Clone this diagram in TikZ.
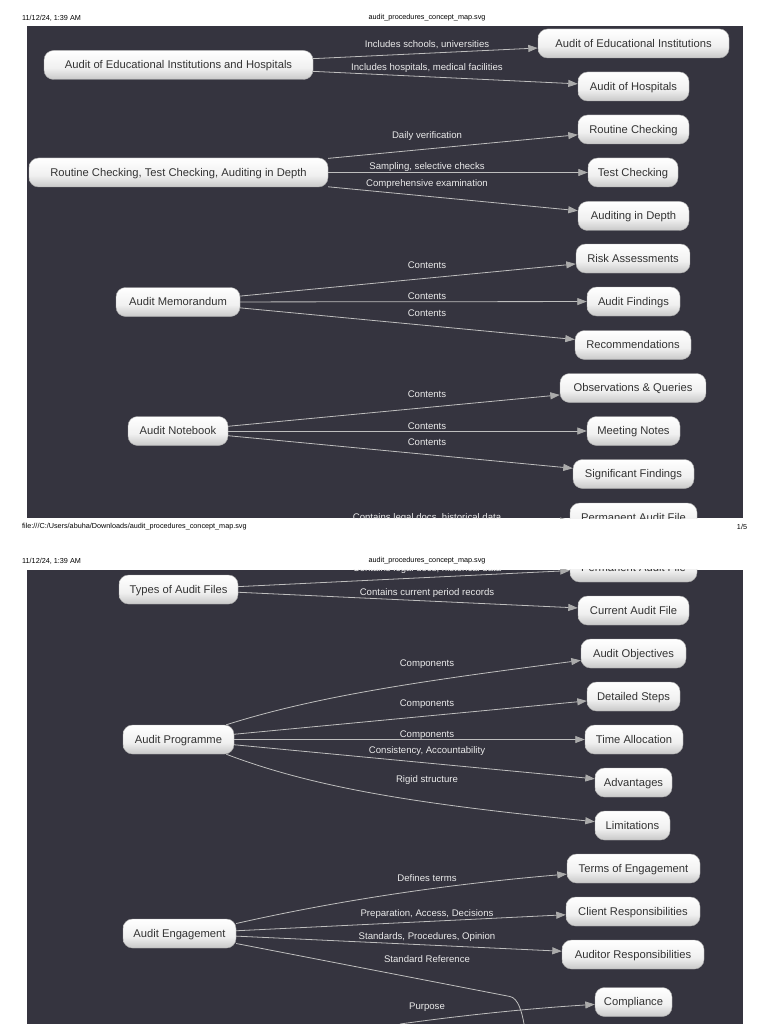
\documentclass[tikz,border=0pt]{standalone}
\usepackage{fontspec}
\setmainfont{Liberation Sans}
\usetikzlibrary{arrows.meta}
\definecolor{panel}{HTML}{35343F}
\definecolor{edgecol}{HTML}{BEBEBE}
\definecolor{tipcol}{HTML}{ABABAB}
\definecolor{boxtext}{HTML}{333333}
\definecolor{boxlow}{HTML}{C8C8C8}
\definecolor{boxmid}{HTML}{F0F0F0}
\pgfdeclareverticalshading{cardshade}{100bp}{color(0bp)=(boxlow); color(25bp)=(boxlow); color(45bp)=(boxmid); color(75bp)=(white); color(100bp)=(white)}
\tikzset{
 x=1pt,y=-1pt,
 cbox/.style={rounded corners=9.5pt,draw=boxlow!85!black,line width=.4pt,shading=cardshade,
   text=boxtext,font=\fontsize{11.2}{13}\selectfont,inner sep=0pt,minimum height=29pt,text height=7.4pt,text depth=0pt},
 lbl/.style={text=white!92!black,font=\fontsize{9.6}{11}\selectfont,inner sep=0pt,text height=7pt,text depth=0pt},
 hdr/.style={text=black,font=\fontsize{7.25}{8}\selectfont,inner sep=0pt},
 conn/.style={draw=edgecol,line width=.8pt,-{Triangle[length=9.5pt,width=7pt,fill=tipcol,color=tipcol]}},
 plain/.style={draw=edgecol,line width=.8pt},
}
\begin{document}
\begin{tikzpicture}
\useasboundingbox (0,0) rectangle (768,1024);
\fill[white] (0,0) rectangle (768,1024);
% page furniture
\node[hdr,anchor=west] (h1) at (22,18) {11/12/24, 1:39 AM};
\node[hdr] (h2) at (427,18) {audit\_procedures\_concept\_map.svg};
\node[hdr,anchor=west] (f1) at (22,526.5) {file:///C:/Users/abuha/Downloads/audit\_procedures\_concept\_map.svg};
\node[hdr] (f2) at (742,526.5) {1/5};
\node[hdr,anchor=west] (h3) at (22,561) {11/12/24, 1:39 AM};
\node[hdr] (h4) at (427,561) {audit\_procedures\_concept\_map.svg};
% page 1
\begin{scope}
\clip (26.5,26.5) rectangle (743,518);
\fill[panel] (26.5,26.5) rectangle (743,518);
\node[cbox,minimum width=269pt] (eh) at (178.5,65) {Audit of Educational Institutions and Hospitals};
\node[cbox,minimum width=191pt] (edu) at (633.5,43.5) {Audit of Educational Institutions};
\node[cbox,minimum width=111pt] (hos) at (633.5,86.5) {Audit of Hospitals};
\node[cbox,minimum width=299pt] (rt) at (178.5,172.5) {Routine Checking, Test Checking, Auditing in Depth};
\node[cbox,minimum width=111pt] (rc) at (633.5,129.5) {Routine Checking};
\node[cbox,minimum width=90pt] (tc) at (633,172.5) {Test Checking};
\node[cbox,minimum width=111pt] (ad) at (633.5,216) {Auditing in Depth};
\node[cbox,minimum width=124pt] (mem) at (178,302) {Audit Memorandum};
\node[cbox,minimum width=114pt] (risk) at (633,258.5) {Risk Assessments};
\node[cbox,minimum width=93pt] (find) at (633.5,301.5) {Audit Findings};
\node[cbox,minimum width=116pt] (rec) at (633,345) {Recommendations};
\node[cbox,minimum width=100pt] (nb) at (178,431) {Audit Notebook};
\node[cbox,minimum width=146pt] (obs) at (633,388) {Observations \& Queries};
\node[cbox,minimum width=93pt] (meet) at (633.5,431) {Meeting Notes};
\node[cbox,minimum width=121pt] (sig) at (633.5,474) {Significant Findings};
\node[cbox,minimum width=127pt] (perma) at (633.5,517.5) {Permanent Audit File};
\coordinate (typesa) at (178.5,539.5);
\draw[conn] (eh) -- (edu);
\draw[conn] (eh) -- (hos);
\draw[conn] (rt) -- (rc);
\draw[conn] (rt) -- (tc);
\draw[conn] (rt) -- (ad);
\draw[conn] (mem) -- (risk);
\draw[conn] (mem) -- (find);
\draw[conn] (mem) -- (rec);
\draw[conn] (nb) -- (obs);
\draw[conn] (nb) -- (meet);
\draw[conn] (nb) -- (sig);
\draw[conn] (typesa) -- (perma);
\node[lbl] (l1) at (427,44) {Includes schools, universities};
\node[lbl] (l2) at (427,67.5) {Includes hospitals, medical facilities};
\node[lbl] (l3) at (427,135.5) {Daily verification};
\node[lbl] (l4) at (427,166.5) {Sampling, selective checks};
\node[lbl] (l5) at (427,183.5) {Comprehensive examination};
\node[lbl] (l6) at (427,265) {Contents};
\node[lbl] (l7) at (427,296) {Contents};
\node[lbl] (l8) at (427,313) {Contents};
\node[lbl] (l9) at (427,394) {Contents};
\node[lbl] (l10) at (427,425.5) {Contents};
\node[lbl] (l11) at (427,442) {Contents};
\node[lbl] (l12) at (427,517) {Contains legal docs, historical data};
\end{scope}
% page 2
\begin{scope}
\clip (26.5,569.5) rectangle (743,1024);
\fill[panel] (26.5,569.5) rectangle (743,1024);
\node[cbox,minimum width=119pt] (types) at (178.5,589.5) {Types of Audit Files};
\node[cbox,minimum width=127pt] (perm) at (633.5,567.5) {Permanent Audit File};
\node[cbox,minimum width=111pt] (cur) at (633.5,610.5) {Current Audit File};
\node[cbox,minimum width=105pt] (obj) at (633.5,653.5) {Audit Objectives};
\node[cbox,minimum width=93pt] (steps) at (633.5,696.5) {Detailed Steps};
\node[cbox,minimum width=98pt] (time) at (634,739.5) {Time Allocation};
\node[cbox,minimum width=77pt] (adv) at (633.5,782.5) {Advantages};
\node[cbox,minimum width=75pt] (lim) at (632.5,825.5) {Limitations};
\node[cbox,minimum width=111pt] (prog) at (178.5,739.5) {Audit Programme};
\node[cbox,minimum width=113pt] (eng) at (179.5,933.5) {Audit Engagement};
\node[cbox,minimum width=133pt] (terms) at (633.5,868.5) {Terms of Engagement};
\node[cbox,minimum width=134pt] (client) at (633,911.5) {Client Responsibilities};
\node[cbox,minimum width=142pt] (auditor) at (633,954.5) {Auditor Responsibilities};
\node[cbox,minimum width=77pt] (comp) at (633.5,1002) {Compliance};
\coordinate (src1) at (400,1024);
\coordinate (src2) at (524,1024);
\draw[conn] (types) -- (perm);
\draw[conn] (types) -- (cur);
\draw[conn] (prog.north east) ++(-8,0) .. controls (320,695) and (430,680) .. (obj);
\draw[conn] (prog) -- (steps);
\draw[conn] (prog) -- (time);
\draw[conn] (prog) -- (adv);
\draw[conn] (prog.south east) ++(-8,0) .. controls (320,790) and (430,805) .. (lim);
\draw[conn] (eng.east) ++(0,-10) .. controls (340,900) and (450,884) .. (terms);
\draw[conn] (eng) -- (client);
\draw[conn] (eng) -- (auditor);
\draw[plain] (eng.east) ++(0,10) -- (510,996.5) .. controls (518,998) and (522,1012) .. (src2);
\draw[conn] (src1) .. controls (450,1017) and (520,1009) .. (comp);
\node[lbl] (l13) at (427,568) {Contains legal docs, historical data};
\node[lbl] (l14) at (427,592) {Contains current period records};
\node[lbl] (l15) at (427,663) {Components};
\node[lbl] (l16) at (427,703) {Components};
\node[lbl] (l17) at (427,734) {Components};
\node[lbl] (l18) at (427,750) {Consistency, Accountability};
\node[lbl] (l19) at (427,779) {Rigid structure};
\node[lbl] (l20) at (427,877.5) {Defines terms};
\node[lbl] (l21) at (427,912.5) {Preparation, Access, Decisions};
\node[lbl] (l22) at (427,936) {Standards, Procedures, Opinion};
\node[lbl] (l23) at (427,958.5) {Standard Reference};
\node[lbl] (l24) at (427,1005.5) {Purpose};
\end{scope}
\end{tikzpicture}
\end{document}
